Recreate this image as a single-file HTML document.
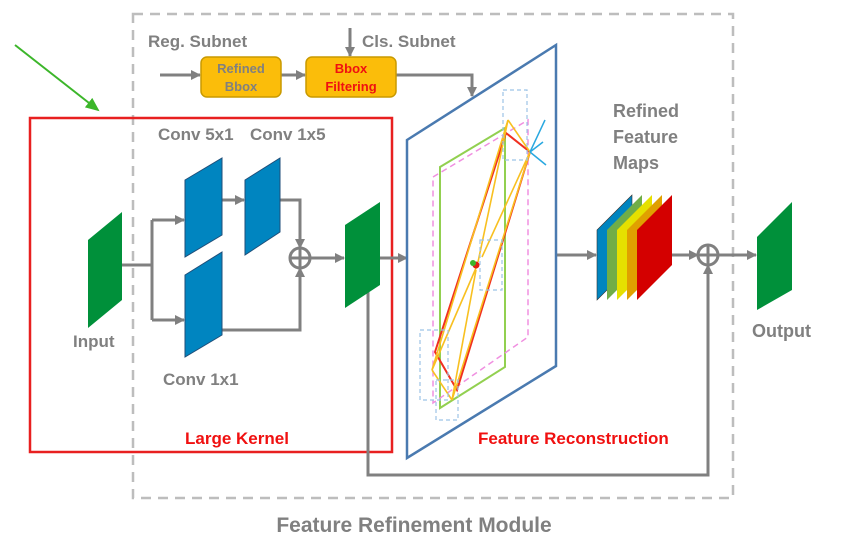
<!DOCTYPE html><html><head><style>body{margin:0;background:#fff}svg{display:block}text{font-family:"Liberation Sans",sans-serif;font-weight:bold}</style></head><body>
<svg width="865" height="554" viewBox="0 0 865 554" xmlns="http://www.w3.org/2000/svg">
<defs><marker id="a" markerWidth="10" markerHeight="10" refX="9" refY="5" orient="auto" markerUnits="userSpaceOnUse"><path d="M0,0L10,5L0,10z" fill="#808080"/></marker>
<marker id="g" markerWidth="14" markerHeight="12" refX="12" refY="6" orient="auto" markerUnits="userSpaceOnUse"><path d="M0,0L14,6L0,12z" fill="#3cb62a"/></marker></defs>
<rect x="133" y="14" width="600" height="484" fill="none" stroke="#bdbdbd" stroke-width="2.5" stroke-dasharray="10,7"/>
<text x="414" y="532" font-size="21" fill="#808080" text-anchor="middle">Feature Refinement Module</text>
<rect x="30" y="118" width="362" height="334" fill="none" stroke="#e82020" stroke-width="2.5"/>
<line x1="15" y1="45" x2="98" y2="110" stroke="#3cb62a" stroke-width="2" marker-end="url(#g)"/>
<g fill="#808080" font-size="17">
<text x="148" y="47">Reg. Subnet</text><text x="362" y="47">Cls. Subnet</text>
<text x="73" y="347">Input</text><text x="158" y="140">Conv 5x1</text><text x="250" y="140">Conv 1x5</text><text x="163" y="385">Conv 1x1</text>
<text x="613" y="117" font-size="18">Refined</text><text x="613" y="143" font-size="18">Feature</text><text x="613" y="169" font-size="18">Maps</text>
<text x="752" y="337" font-size="18">Output</text></g>
<text x="185" y="444" font-size="17" fill="#f01010">Large Kernel</text>
<text x="478" y="444" font-size="17" fill="#f01010">Feature Reconstruction</text>
<g stroke="#808080" stroke-width="3" fill="none">
<line x1="160" y1="75" x2="200" y2="75" marker-end="url(#a)"/>
<line x1="281" y1="75" x2="305" y2="75" marker-end="url(#a)"/>
<line x1="350" y1="28" x2="350" y2="56" marker-end="url(#a)"/>
<polyline points="396,75 472,75 472,96" marker-end="url(#a)"/>
<polyline points="122,265 152,265"/><polyline points="152,220 152,320"/>
<line x1="152" y1="220" x2="184" y2="220" marker-end="url(#a)"/>
<line x1="152" y1="320" x2="184" y2="320" marker-end="url(#a)"/>
<line x1="222" y1="200" x2="244" y2="200" marker-end="url(#a)"/>
<polyline points="280,200 300,200 300,248" marker-end="url(#a)"/>
<polyline points="222,330 300,330 300,268" marker-end="url(#a)"/>
<circle cx="300" cy="258" r="10"/><line x1="290" y1="258" x2="310" y2="258"/><line x1="300" y1="248" x2="300" y2="268"/>
<line x1="310" y1="258" x2="344" y2="258" marker-end="url(#a)"/>
<line x1="380" y1="258" x2="407" y2="258" marker-end="url(#a)"/>
<polyline points="368,290 368,475 708,475 708,265" marker-end="url(#a)"/>
<line x1="556" y1="255" x2="596" y2="255" marker-end="url(#a)"/>
<line x1="672" y1="255" x2="698" y2="255" marker-end="url(#a)"/>
<circle cx="708" cy="255" r="10"/><line x1="698" y1="255" x2="718" y2="255"/><line x1="708" y1="245" x2="708" y2="265"/>
<line x1="718" y1="255" x2="756" y2="255" marker-end="url(#a)"/>
</g>
<rect x="201" y="57" width="80" height="40" rx="6" fill="#fbbd0a" stroke="#c99a00" stroke-width="1.5"/>
<rect x="306" y="57" width="90" height="40" rx="6" fill="#fbbd0a" stroke="#c99a00" stroke-width="1.5"/>
<g font-size="13" text-anchor="middle"><text x="241" y="73" fill="#808080">Refined</text><text x="241" y="91" fill="#808080">Bbox</text>
<text x="351" y="73" fill="#f01010">Bbox</text><text x="351" y="91" fill="#f01010">Filtering</text></g>
<polygon points="88,240 122,212 122,300 88,328" fill="#00903a"/>
<polygon points="345,225 380,202 380,285 345,308" fill="#00903a"/>
<polygon points="757,237 792,202 792,290 757,310" fill="#00903a"/>
<g fill="#0085c0" stroke="#1f4e79" stroke-width="1"><polygon points="185,180 222,158 222,235 185,257"/><polygon points="245,180 280,158 280,232 245,255"/><polygon points="185,275 222,252 222,335 185,357"/></g>
<polygon points="407,140 556,45 556,366 407,458" fill="#fff" stroke="#4a7ab0" stroke-width="2.5"/>
<polygon points="440,167 505,128 505,367 440,408" fill="none" stroke="#92d050" stroke-width="2"/>
<polygon points="433,177 528,120 528,337 433,403" fill="none" stroke="#f090e0" stroke-width="1.5" stroke-dasharray="6,4"/>
<g fill="none" stroke-width="2"><polygon points="435,352 506,133 530,152 457,390" stroke="#f03020"/>
<g stroke="#f8c020" stroke-width="1.6"><line x1="508" y1="120" x2="478" y2="262"/><line x1="530" y1="152" x2="482" y2="257"/><line x1="432" y1="370" x2="476" y2="268"/><line x1="452" y1="400" x2="476" y2="270"/><line x1="508" y1="120" x2="432" y2="370"/><line x1="530" y1="152" x2="452" y2="400"/><line x1="432" y1="370" x2="452" y2="400"/><line x1="508" y1="120" x2="530" y2="152"/></g>
<g stroke="#9cc3e6" stroke-width="1.2" stroke-dasharray="4,3"><rect x="503" y="90" width="24" height="70"/><rect x="420" y="330" width="28" height="70"/><rect x="480" y="240" width="22" height="50"/><rect x="436" y="380" width="22" height="40"/></g>
<g stroke="#29a8e0" stroke-width="1.5"><line x1="530" y1="152" x2="545" y2="120"/><line x1="530" y1="152" x2="546" y2="165"/><line x1="530" y1="152" x2="543" y2="142"/></g></g>
<circle cx="476" cy="265" r="3.5" fill="#e02010"/><circle cx="473" cy="263" r="3" fill="#3cb62a"/>
<polygon points="597,230 632,195 632,265 597,300" fill="#0085c0" stroke="#333" stroke-width="0.6"/>
<polygon points="607,230 642,195 642,265 607,300" fill="#70ad47"/>
<polygon points="617,230 652,195 652,265 617,300" fill="#e6e000"/>
<polygon points="627,230 662,195 662,265 627,300" fill="#e0a000"/>
<polygon points="637,230 672,195 672,265 637,300" fill="#d40000"/>
</svg></body></html>
